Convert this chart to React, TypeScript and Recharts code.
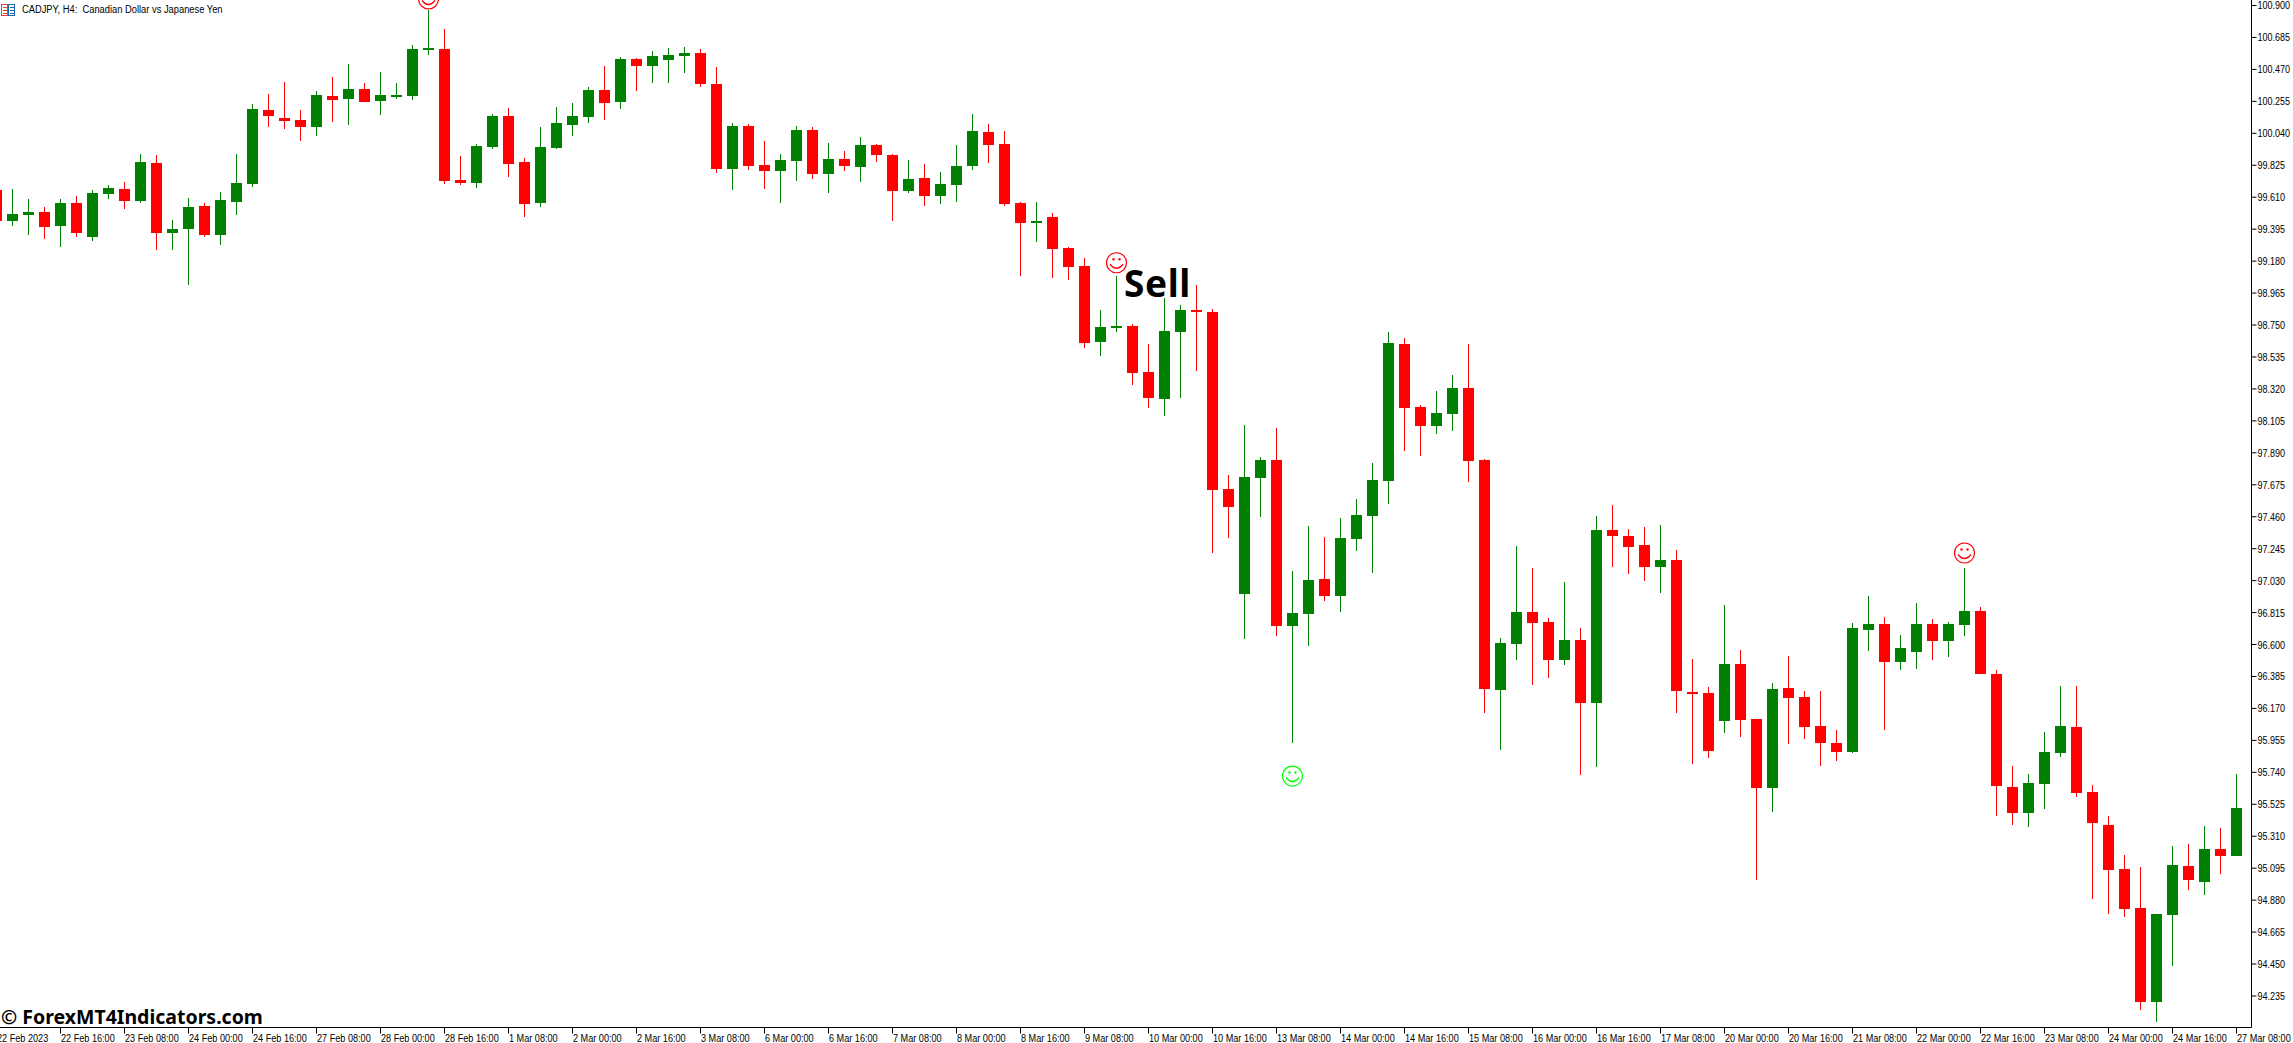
import { ComposedChart, Bar, XAxis, YAxis, ReferenceDot } from "recharts";

const opens = [
  99.658, 99.45, 99.49, 99.51, 99.416, 99.571, 99.342, 99.631, 99.665, 99.584,
  99.84, 99.369, 99.396, 99.551, 99.356, 99.578, 99.699, 100.197, 100.143, 100.129,
  100.082, 100.291, 100.271, 100.338, 100.257, 100.284, 100.291, 100.601, 100.607, 99.726,
  99.705, 99.948, 100.156, 99.847, 99.571, 99.941, 100.096, 100.15, 100.331, 100.251,
  100.54, 100.493, 100.533, 100.56, 100.58, 100.372, 99.8, 100.089, 99.827, 99.786,
  99.854, 100.062, 99.766, 99.867, 99.813, 99.961, 99.894, 99.652, 99.739, 99.618,
  99.692, 99.82, 100.049, 99.968, 99.571, 99.436, 99.477, 99.268, 99.147, 98.636,
  98.73, 98.743, 98.434, 98.252, 98.703, 98.851, 98.837, 97.646, 96.94, 97.72,
  97.841, 96.724, 96.805, 97.041, 96.926, 97.31, 97.465, 97.7, 98.622, 98.198,
  98.07, 98.151, 98.326, 97.841, 96.294, 96.603, 96.819, 96.751, 96.496, 96.63,
  96.206, 97.37, 97.33, 97.269, 97.121, 97.168, 96.28, 96.273, 96.085, 96.469,
  96.099, 95.634, 96.307, 96.247, 96.051, 95.937, 95.876, 96.697, 96.738, 96.482,
  96.549, 96.738, 96.623, 96.731, 96.825, 96.401, 95.643, 95.468, 95.663, 95.87,
  96.045, 95.61, 95.387, 95.091, 94.829, 94.196, 94.782, 95.111, 95.004, 95.226,
  95.179,
];

const closes = [
  99.452, 99.497, 99.51, 99.409, 99.571, 99.369, 99.638, 99.672, 99.584, 99.847,
  99.369, 99.396, 99.544, 99.356, 99.591, 99.705, 100.203, 100.156, 100.123, 100.082,
  100.298, 100.264, 100.338, 100.251, 100.298, 100.298, 100.607, 100.614, 99.719, 99.705,
  99.954, 100.156, 99.833, 99.564, 99.948, 100.109, 100.156, 100.331, 100.244, 100.54,
  100.493, 100.56, 100.567, 100.58, 100.372, 99.8, 100.089, 99.82, 99.786, 99.86,
  100.062, 99.766, 99.867, 99.82, 99.961, 99.894, 99.652, 99.732, 99.618, 99.699,
  99.82, 100.055, 99.961, 99.564, 99.436, 99.45, 99.261, 99.14, 98.629, 98.737,
  98.743, 98.427, 98.259, 98.71, 98.851, 98.837, 97.64, 97.525, 97.727, 97.841,
  96.724, 96.812, 97.034, 96.926, 97.317, 97.471, 97.707, 98.629, 98.191, 98.07,
  98.158, 98.326, 97.835, 96.3, 96.61, 96.819, 96.745, 96.496, 96.63, 96.206,
  97.37, 97.33, 97.256, 97.121, 97.168, 96.287, 96.267, 95.883, 96.469, 96.092,
  95.634, 96.3, 96.24, 96.045, 95.937, 95.876, 96.711, 96.738, 96.482, 96.576,
  96.738, 96.623, 96.738, 96.825, 96.401, 95.65, 95.468, 95.67, 95.876, 96.051,
  95.603, 95.401, 95.085, 94.822, 94.196, 94.788, 95.118, 95.017, 95.226, 95.179,
  95.502,
];

const highs = [
  99.681, 99.665, 99.598, 99.544, 99.598, 99.618, 99.658, 99.692, 99.712, 99.901,
  99.894, 99.456, 99.604, 99.571, 99.645, 99.901, 100.237, 100.304, 100.385, 100.197,
  100.325, 100.419, 100.506, 100.378, 100.452, 100.378, 100.634, 100.87, 100.742, 99.887,
  99.968, 100.17, 100.21, 99.874, 100.082, 100.217, 100.244, 100.352, 100.493, 100.553,
  100.547, 100.594, 100.614, 100.621, 100.607, 100.486, 100.109, 100.102, 99.988, 99.901,
  100.089, 100.082, 99.975, 99.921, 100.015, 99.968, 99.901, 99.86, 99.833, 99.78,
  99.961, 100.17, 100.102, 100.055, 99.578, 99.578, 99.504, 99.275, 99.201, 98.851,
  99.08, 98.757, 98.622, 98.932, 98.885, 99.019, 98.858, 97.74, 98.077, 97.862,
  98.057, 97.095, 97.397, 97.323, 97.451, 97.579, 97.821, 98.703, 98.662, 98.212,
  98.306, 98.413, 98.622, 97.848, 96.644, 97.263, 97.115, 96.778, 97.021, 96.711,
  97.465, 97.539, 97.377, 97.391, 97.404, 97.236, 96.502, 96.314, 96.866, 96.563,
  96.099, 96.341, 96.522, 96.287, 96.287, 96.024, 96.745, 96.926, 96.785, 96.664,
  96.879, 96.771, 96.751, 97.115, 96.852, 96.428, 95.782, 95.728, 96.011, 96.321,
  96.321, 95.657, 95.448, 95.186, 95.105, 94.788, 95.246, 95.26, 95.381, 95.367,
  95.728,
];

const lows = [
  99.423, 99.416, 99.356, 99.329, 99.275, 99.342, 99.315, 99.598, 99.531, 99.571,
  99.255, 99.255, 99.019, 99.342, 99.288, 99.49, 99.679, 100.082, 100.069, 99.988,
  100.022, 100.116, 100.096, 100.251, 100.163, 100.271, 100.264, 100.567, 99.699, 99.692,
  99.672, 99.934, 99.746, 99.477, 99.544, 99.934, 100.022, 100.109, 100.129, 100.203,
  100.325, 100.378, 100.378, 100.446, 100.352, 99.773, 99.658, 99.793, 99.665, 99.571,
  99.719, 99.732, 99.638, 99.786, 99.712, 99.847, 99.45, 99.638, 99.551, 99.564,
  99.578, 99.793, 99.84, 99.551, 99.08, 99.308, 99.066, 99.053, 98.595, 98.541,
  98.703, 98.346, 98.191, 98.137, 98.259, 98.44, 97.216, 97.317, 96.637, 97.458,
  96.657, 95.937, 96.59, 96.893, 96.819, 97.229, 97.081, 97.545, 97.902, 97.868,
  98.016, 98.036, 97.693, 96.139, 95.89, 96.496, 96.327, 96.374, 96.462, 95.722,
  95.775, 97.121, 97.074, 97.027, 96.946, 96.139, 95.796, 95.836, 96.004, 95.977,
  95.015, 95.473, 95.93, 95.964, 95.782, 95.816, 95.87, 96.556, 96.024, 96.428,
  96.435, 96.496, 96.516, 96.657, 96.401, 95.448, 95.387, 95.374, 95.495, 95.843,
  95.576, 94.889, 94.788, 94.768, 94.142, 94.062, 94.439, 94.95, 94.916, 95.058,
  95.179,
];

const xLabels = [
  "22 Feb 2023", "22 Feb 16:00", "23 Feb 08:00", "24 Feb 00:00", "24 Feb 16:00", "27 Feb 08:00",
  "28 Feb 00:00", "28 Feb 16:00", "1 Mar 08:00", "2 Mar 00:00", "2 Mar 16:00", "3 Mar 08:00",
  "6 Mar 00:00", "6 Mar 16:00", "7 Mar 08:00", "8 Mar 00:00", "8 Mar 16:00", "9 Mar 08:00",
  "10 Mar 00:00", "10 Mar 16:00", "13 Mar 08:00", "14 Mar 00:00", "14 Mar 16:00", "15 Mar 08:00",
  "16 Mar 00:00", "16 Mar 16:00", "17 Mar 08:00", "20 Mar 00:00", "20 Mar 16:00", "21 Mar 08:00",
  "22 Mar 00:00", "22 Mar 16:00", "23 Mar 08:00", "24 Mar 00:00", "24 Mar 16:00", "27 Mar 08:00",
];
const xTicks = xLabels.map((_, i) => i * 4);

const yTicks = [
  100.9, 100.685, 100.47, 100.255, 100.04, 99.825, 99.61, 99.395, 99.18, 98.965, 98.75,
  98.535, 98.32, 98.105, 97.89, 97.675, 97.46, 97.245, 97.03, 96.815, 96.6, 96.385,
  96.17, 95.955, 95.74, 95.525, 95.31, 95.095, 94.88, 94.665, 94.45, 94.235,
];

const redSmiles = [
  { i: 27, price: 100.944 },
  { i: 70, price: 99.169 },
  { i: 123, price: 97.216 },
];
const greenSmiles = [{ i: 81, price: 95.715 }];

const candles = opens.map((open, i) => ({
  i,
  open,
  close: closes[i],
  high: highs[i],
  low: lows[i],
  range: [lows[i], highs[i]],
}));

const UP = "#008000";
const DOWN = "#ff0000";
const LABEL_FONT = '"Liberation Sans", sans-serif';

function Candle(props: any) {
  const { x, y, width, height, payload } = props;
  const { open, close, high, low } = payload;
  const color = close >= open ? UP : DOWN;
  const k = height / (high - low);
  const top = y + (high - Math.max(open, close)) * k;
  const bodyH = Math.max(Math.abs(open - close) * k, 2);
  const mid = x + width / 2;
  return (
    <g shapeRendering="crispEdges">
      <rect x={mid - 0.5} y={y} width={1} height={height} fill={color} />
      <rect x={x} y={top} width={width} height={bodyH} fill={color} />
    </g>
  );
}

function Smile(props: any) {
  const { cx, cy, color } = props;
  return (
    <g fill="none" stroke={color} strokeWidth={1.2}>
      <circle cx={cx} cy={cy} r={10} />
      <circle cx={cx - 3} cy={cy - 3.5} r={1.2} fill={color} stroke="none" />
      <circle cx={cx + 3} cy={cy - 3.5} r={1.2} fill={color} stroke="none" />
      <path d={`M${cx - 6.5} ${cy + 1.5} Q${cx} ${cy + 9.5} ${cx + 6.5} ${cy + 1.5}`} strokeWidth={1.4} />
    </g>
  );
}

// no narrow face is installed, so the regular one gets squeezed
function NarrowText({ x, y, sx = 0.83, children }: any) {
  return (
    <text
      transform={`translate(${x} ${y}) scale(${sx} 1)`}
      fill="#000"
      fontSize={11}
      fontFamily={LABEL_FONT}
      textAnchor="start"
      xmlSpace="preserve"
    >
      {children}
    </text>
  );
}

function DateTick(props: any) {
  const { x, y, payload } = props;
  return (
    <NarrowText x={x + 0.5} y={y + 8}>
      {xLabels[payload.value / 4]}
    </NarrowText>
  );
}

function PriceTick(props: any) {
  const { x, y, payload } = props;
  return (
    <NarrowText x={x} y={y + 4} sx={0.82}>
      {payload.value.toFixed(3)}
    </NarrowText>
  );
}

export default function App() {
  return (
    <div style={{ position: "absolute", left: 0, top: 0, width: 2293, height: 1043, background: "#fff", overflow: "hidden" }}>
      <ComposedChart width={2293} height={1043} data={candles} margin={{ top: 0, right: 0, bottom: 0, left: 0 }}>
        <XAxis
          dataKey="i"
          type="number"
          domain={[0.21875, 140.9375]}
          allowDataOverflow
          ticks={xTicks}
          interval={0}
          height={15.5}
          stroke="#000"
          tickSize={6}
          tickMargin={0}
          tick={<DateTick />}
        />
        <YAxis
          orientation="right"
          type="number"
          domain={[94.023, 100.937]}
          allowDataOverflow
          ticks={yTicks}
          interval={0}
          width={41.5}
          stroke="#000"
          tickSize={5}
          tickMargin={1}
          tick={<PriceTick />}
        />
        <Bar dataKey="range" barSize={11} shape={<Candle />} isAnimationActive={false} />
        {redSmiles.map((s) => (
          <ReferenceDot key={s.i} x={s.i} y={s.price} ifOverflow="visible" shape={<Smile color="#ff0000" />} />
        ))}
        {greenSmiles.map((s) => (
          <ReferenceDot key={s.i} x={s.i} y={s.price} ifOverflow="visible" shape={<Smile color="#00ff00" />} />
        ))}
        <g shapeRendering="crispEdges">
          <rect x={1.5} y={4.5} width={6} height={11} fill="none" stroke="#e8402a" />
          <rect x={8.5} y={4.5} width={6} height={11} fill="none" stroke="#1565b0" />
          <path d="M3 7.5h4M3 10.5h4M3 13.5h4" stroke="#e8402a" />
          <path d="M10 7.5h4M10 10.5h4M10 13.5h4" stroke="#1565b0" />
        </g>
        <NarrowText x={22} y={13} sx={0.85}>
          CADJPY, H4:  Canadian Dollar vs Japanese Yen
        </NarrowText>
        <text x={1124} y={296.5} fontSize={37} fontWeight={700} letterSpacing={0.6} fontFamily='"Noto Sans", sans-serif' fill="#000">
          Sell
        </text>
        <text x={1} y={1023.5} fontSize={19.5} fontWeight={700} fontFamily='"Noto Sans", sans-serif' fill="#000">
          © ForexMT4Indicators.com
        </text>
      </ComposedChart>
    </div>
  );
}
